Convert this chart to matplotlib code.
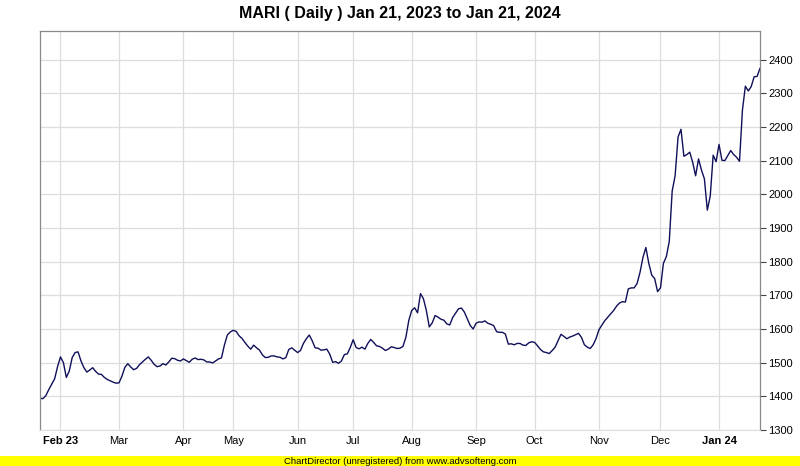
import numpy as np
import matplotlib
matplotlib.use('Agg')
import matplotlib.pyplot as plt

plt.rcParams.update({
    'font.family': ['Liberation Sans', 'DejaVu Sans'],
    'font.size': 8
})

# closing prices, one per trading day (Jan 23 2023 .. Jan 19 2024)
close = [
    1394, 1393, 1402, 1420, 1436, 1452, 1488, 1517, 1500, 1456,
    1475, 1515, 1530, 1532, 1505, 1485, 1472, 1478, 1485, 1474,
    1466, 1465, 1456, 1450, 1446, 1442, 1439, 1440, 1460, 1486,
    1497, 1487, 1479, 1483, 1494, 1502, 1510, 1517, 1507, 1495,
    1488, 1490, 1497, 1493, 1502, 1513, 1512, 1507, 1505, 1511,
    1506, 1501, 1510, 1514, 1509, 1510, 1508, 1502, 1502, 1499,
    1505, 1511, 1514, 1552, 1582, 1591, 1596, 1593, 1580, 1572,
    1560, 1549, 1540, 1552, 1544, 1537, 1523, 1515, 1516, 1520,
    1520, 1517, 1516, 1511, 1515, 1539, 1544, 1537, 1530, 1536,
    1557, 1571, 1582, 1565, 1544, 1543, 1537, 1538, 1540, 1525,
    1501, 1503, 1498, 1505, 1524, 1526, 1545, 1568, 1545, 1541,
    1546, 1540, 1557, 1569, 1560, 1550, 1548, 1543, 1536, 1540,
    1547, 1545, 1542, 1543, 1548, 1575, 1625, 1655, 1663, 1648,
    1705, 1690, 1655, 1606, 1618, 1640, 1635, 1629, 1626, 1615,
    1612, 1634, 1647, 1660, 1662, 1650, 1630, 1610, 1600, 1617,
    1621, 1620, 1624, 1617, 1614, 1610, 1592, 1590, 1590, 1585,
    1555, 1556, 1553, 1557, 1557, 1552, 1551, 1559, 1562, 1560,
    1550, 1539, 1532, 1530, 1527, 1536, 1546, 1565, 1584, 1578,
    1571, 1576, 1579, 1583, 1587, 1575, 1553, 1546, 1542, 1553,
    1572, 1598, 1612, 1625, 1635, 1645, 1655, 1668, 1677, 1681,
    1680, 1719, 1722, 1722, 1735, 1768, 1812, 1842, 1795, 1760,
    1750, 1711, 1722, 1795, 1815, 1860, 2010, 2055, 2170, 2193,
    2113, 2118, 2125, 2095, 2055, 2105, 2072, 2046, 1953, 1995,
    2116, 2097, 2148, 2101, 2100, 2115, 2130, 2118, 2110, 2098,
    2250, 2321, 2307, 2320, 2349, 2350, 2374,
]

# first trading day of each month (index into close)
month_idx = [7, 27, 49, 66, 88, 107, 127, 149, 169, 191, 212, 232]
month_lbl = ['Feb 23', 'Mar', 'Apr', 'May', 'Jun', 'Jul', 'Aug', 'Sep', 'Oct', 'Nov', 'Dec', 'Jan 24']
y_ticks = list(range(1300, 2401, 100))

fig = plt.figure(figsize=(8, 4.66), dpi=100)
ax = fig.add_axes([0.05, 0.0773, 0.90, 0.8562])

x = np.arange(len(close))
ax.plot(x, close, color='#10105a', linewidth=1.0)

ax.set_xlim(0, len(close) - 1)
ax.set_ylim(1300, 2485)
ax.set_xticks(month_idx)
ax.set_xticklabels(month_lbl)
for lbl in ax.get_xticklabels():
    if lbl.get_text() in ('Feb 23', 'Jan 24'):
        lbl.set_fontweight('bold')
ax.set_yticks(y_ticks)
ax.yaxis.tick_right()
ax.tick_params(axis='y', direction='out', length=4, width=0.8, color='#444444', pad=2, labelsize=8)
ax.tick_params(axis='x', length=0, pad=4, labelsize=8)

ax.grid(True, color='#dddddd', linewidth=0.9)
ax.set_axisbelow(True)
for side in ['left', 'top', 'right']:
    ax.spines[side].set_color('#888888')
    ax.spines[side].set_linewidth(0.9)
ax.spines['bottom'].set_color('#dddddd')

fig.text(0.5, 0.972, 'MARI ( Daily ) Jan 21, 2023 to Jan 21, 2024',
         ha='center', va='center', fontsize=11.5, fontweight='bold')

# unregistered banner at the bottom
fig.patches.append(plt.Rectangle((0, 0), 1, 10 / 466, transform=fig.transFigure,
                                 facecolor='#ffff00', edgecolor='none'))
fig.text(0.5, 5 / 466, 'ChartDirector (unregistered) from www.advsofteng.com',
         ha='center', va='center', fontsize=6.8)

fig.savefig('out.png', dpi=100)
